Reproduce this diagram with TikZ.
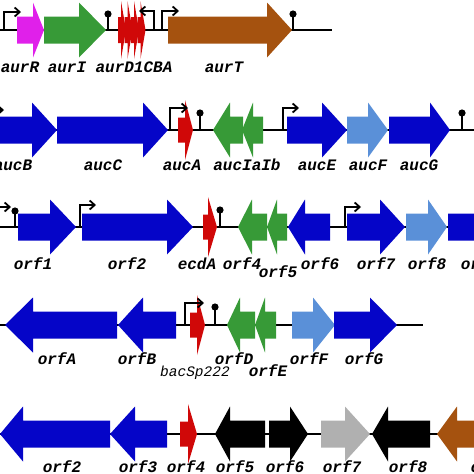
\documentclass[tikz,border=0pt]{standalone}
\usepackage{fontspec}
\newfontfamily\lblfont{Liberation Mono}
\usetikzlibrary{arrows.meta}
\definecolor{gmag}{HTML}{E020EA}
\definecolor{ggreen}{HTML}{379A37}
\definecolor{gred}{HTML}{D00808}
\definecolor{gbrown}{HTML}{A5520F}
\definecolor{gblue}{HTML}{0505C8}
\definecolor{glight}{HTML}{5A90D8}
\definecolor{ggray}{HTML}{B0B0B0}
\newcommand\drawgene[7]{%
  \fill[#1] (#3,#2-#6) -- (#4,#2-#6) -- (#4,#2-#7) -- (#5,#2) -- (#4,#2+#7) -- (#4,#2+#6) -- (#3,#2+#6) -- cycle;}
\newcommand\geneR[5]{\drawgene{#1}{#2}{#3}{#4}{#5}{13.5}{27.5}}
\newcommand\geneS[5]{\drawgene{#1}{#2}{#3}{#4}{#5}{12.5}{30}}
\tikzset{
  backbone/.style={line width=2.2pt},
  prom/.style={line width=1.8pt,-{Straight Barb[length=5pt,width=9pt]}},
  termstem/.style={line width=1.8pt},
  lbl/.style={font=\lblfont\bfseries\itshape\fontsize{16}{16}\selectfont,anchor=base,inner sep=0pt},
  lbls/.style={font=\lblfont\itshape\fontsize{14.5}{14.5}\selectfont,anchor=base,inner sep=0pt}
}
\newcommand\term[3]{\draw[termstem] (#1,#2) -- (#1,#3); \fill (#1,#3) circle (3.6);}
\begin{document}
\begin{tikzpicture}[x=1pt,y=-1pt]
\useasboundingbox (0,0) rectangle (474,474);
\clip (0,0) rectangle (474,474);
% ---------- row 1 ----------
\draw[backbone] (-5,30) -- (332,30);
\geneR{gmag}{30}{17}{33}{44}
\geneR{ggreen}{30}{44}{79}{106}
\drawgene{gred}{30}{118}{121}{126}{13}{29}
\drawgene{gred}{30}{124.5}{127.5}{132.5}{13}{29}
\drawgene{gred}{30}{131}{134}{139}{13}{29}
\drawgene{gred}{30}{137.5}{140.5}{145.5}{13}{29}
\geneR{gbrown}{30}{168}{267}{292}
\draw[prom] (4,30) |- (21,12);
\draw[prom] (154,30) |- (139,11);
\draw[prom] (162,30) |- (179,11);
\term{108}{30}{14}
\term{293}{30}{14}
\node[lbl] (aurR) at (20,72) {aurR};
\node[lbl] (aurI) at (67,72) {aurI};
\node[lbl] (aurD) at (134,72) {aurD1CBA};
\node[lbl] (aurT) at (224,72) {aurT};
% ---------- row 2 ----------
\draw[backbone] (-5,130) -- (479,130);
\geneR{gblue}{130}{-20}{32}{57}
\geneR{gblue}{130}{57}{143}{168}
\geneS{gred}{130}{178}{185}{193}
\geneR{ggreen}{130}{243}{230}{213}
\geneR{ggreen}{130}{263}{253}{242}
\geneR{gblue}{130}{287}{322}{347}
\geneR{glight}{130}{347}{368}{388}
\geneR{gblue}{130}{389}{430}{450}
\draw[prom] (-14,130) |- (4,110);
\draw[prom] (170,130) |- (188,108);
\draw[prom] (283,130) |- (299,108);
\term{200}{130}{113}
\term{462}{130}{113}
\node[lbl] (aucB) at (13,170) {aucB};
\node[lbl] (aucC) at (103,170) {aucC};
\node[lbl] (aucA) at (182,170) {aucA};
\node[lbl] (aucI) at (247,170) {aucIaIb};
\node[lbl] (aucE) at (317,170) {aucE};
\node[lbl] (aucF) at (368,170) {aucF};
\node[lbl] (aucG) at (419,170) {aucG};
% ---------- row 3 ----------
\draw[backbone] (-5,227) -- (479,227);
\geneR{gblue}{227}{18}{50}{76}
\geneR{gblue}{227}{82}{167}{193}
\geneS{gred}{227}{203}{208}{217}
\geneR{ggreen}{227}{267}{252}{238}
\geneR{ggreen}{227}{287}{277}{267}
\geneR{gblue}{227}{330}{305}{288}
\geneR{gblue}{227}{347}{380}{405}
\geneR{glight}{227}{406}{428}{447}
\geneR{gblue}{227}{448}{500}{525}
\draw[prom] (-3,227) |- (11,207);
\draw[prom] (80,227) |- (96,205);
\draw[prom] (345,227) |- (361,207);
\term{15}{227}{211}
\term{220}{227}{210}
\node[lbl] (orf1) at (33,269) {orf1};
\node[lbl] (orf2) at (127,269) {orf2};
\node[lbl] (ecdA) at (197,269) {ecdA};
\node[lbl] (orf4) at (242,269) {orf4};
\node[lbl] (orf5) at (278,277) {orf5};
\node[lbl] (orf6) at (320,269) {orf6};
\node[lbl] (orf7) at (376,269) {orf7};
\node[lbl] (orf8) at (427,269) {orf8};
\node[lbl] (orf9) at (480,269) {orf9};
% ---------- row 4 ----------
\draw[backbone] (-5,325) -- (423,325);
\geneR{gblue}{325}{117}{33}{5}
\geneR{gblue}{325}{176}{143}{118}
\geneS{gred}{325}{190}{197}{205}
\geneR{ggreen}{325}{255}{240}{227}
\geneR{ggreen}{325}{276}{265}{255}
\geneR{glight}{325}{292}{313}{335}
\geneR{gblue}{325}{334}{370}{397}
\draw[prom] (185,325) |- (204,303);
\term{215}{325}{307}
\node[lbl] (orfA) at (57,364) {orfA};
\node[lbl] (orfB) at (137,364) {orfB};
\node[lbls] (bac) at (195,376) {bacSp222};
\node[lbl] (orfD) at (234,364) {orfD};
\node[lbl] (orfE) at (268,376) {orfE};
\node[lbl] (orfF) at (309,364) {orfF};
\node[lbl] (orfG) at (364,364) {orfG};
% ---------- row 5 ----------
\draw[backbone] (-5,434) -- (479,434);
\geneR{gblue}{434}{110}{23}{0}
\geneR{gblue}{434}{167}{135}{110}
\geneS{gred}{434}{180}{188}{197}
\geneR{black}{434}{265}{230}{215}
\geneR{black}{434}{269}{290}{308}
\geneR{ggray}{434}{321}{345}{370}
\geneR{black}{434}{430}{388}{372}
\geneR{gbrown}{434}{520}{457}{437}
\node[lbl] (rorf2) at (62,472) {orf2};
\node[lbl] (rorf3) at (138,472) {orf3};
\node[lbl] (rorf4) at (186,472) {orf4};
\node[lbl] (rorf5) at (235,472) {orf5};
\node[lbl] (rorf6) at (285,472) {orf6};
\node[lbl] (rorf7) at (342,472) {orf7};
\node[lbl] (rorf8) at (408,472) {orf8};
\node[lbl] (rorf9) at (490,472) {orf9};
\end{tikzpicture}
\end{document}
